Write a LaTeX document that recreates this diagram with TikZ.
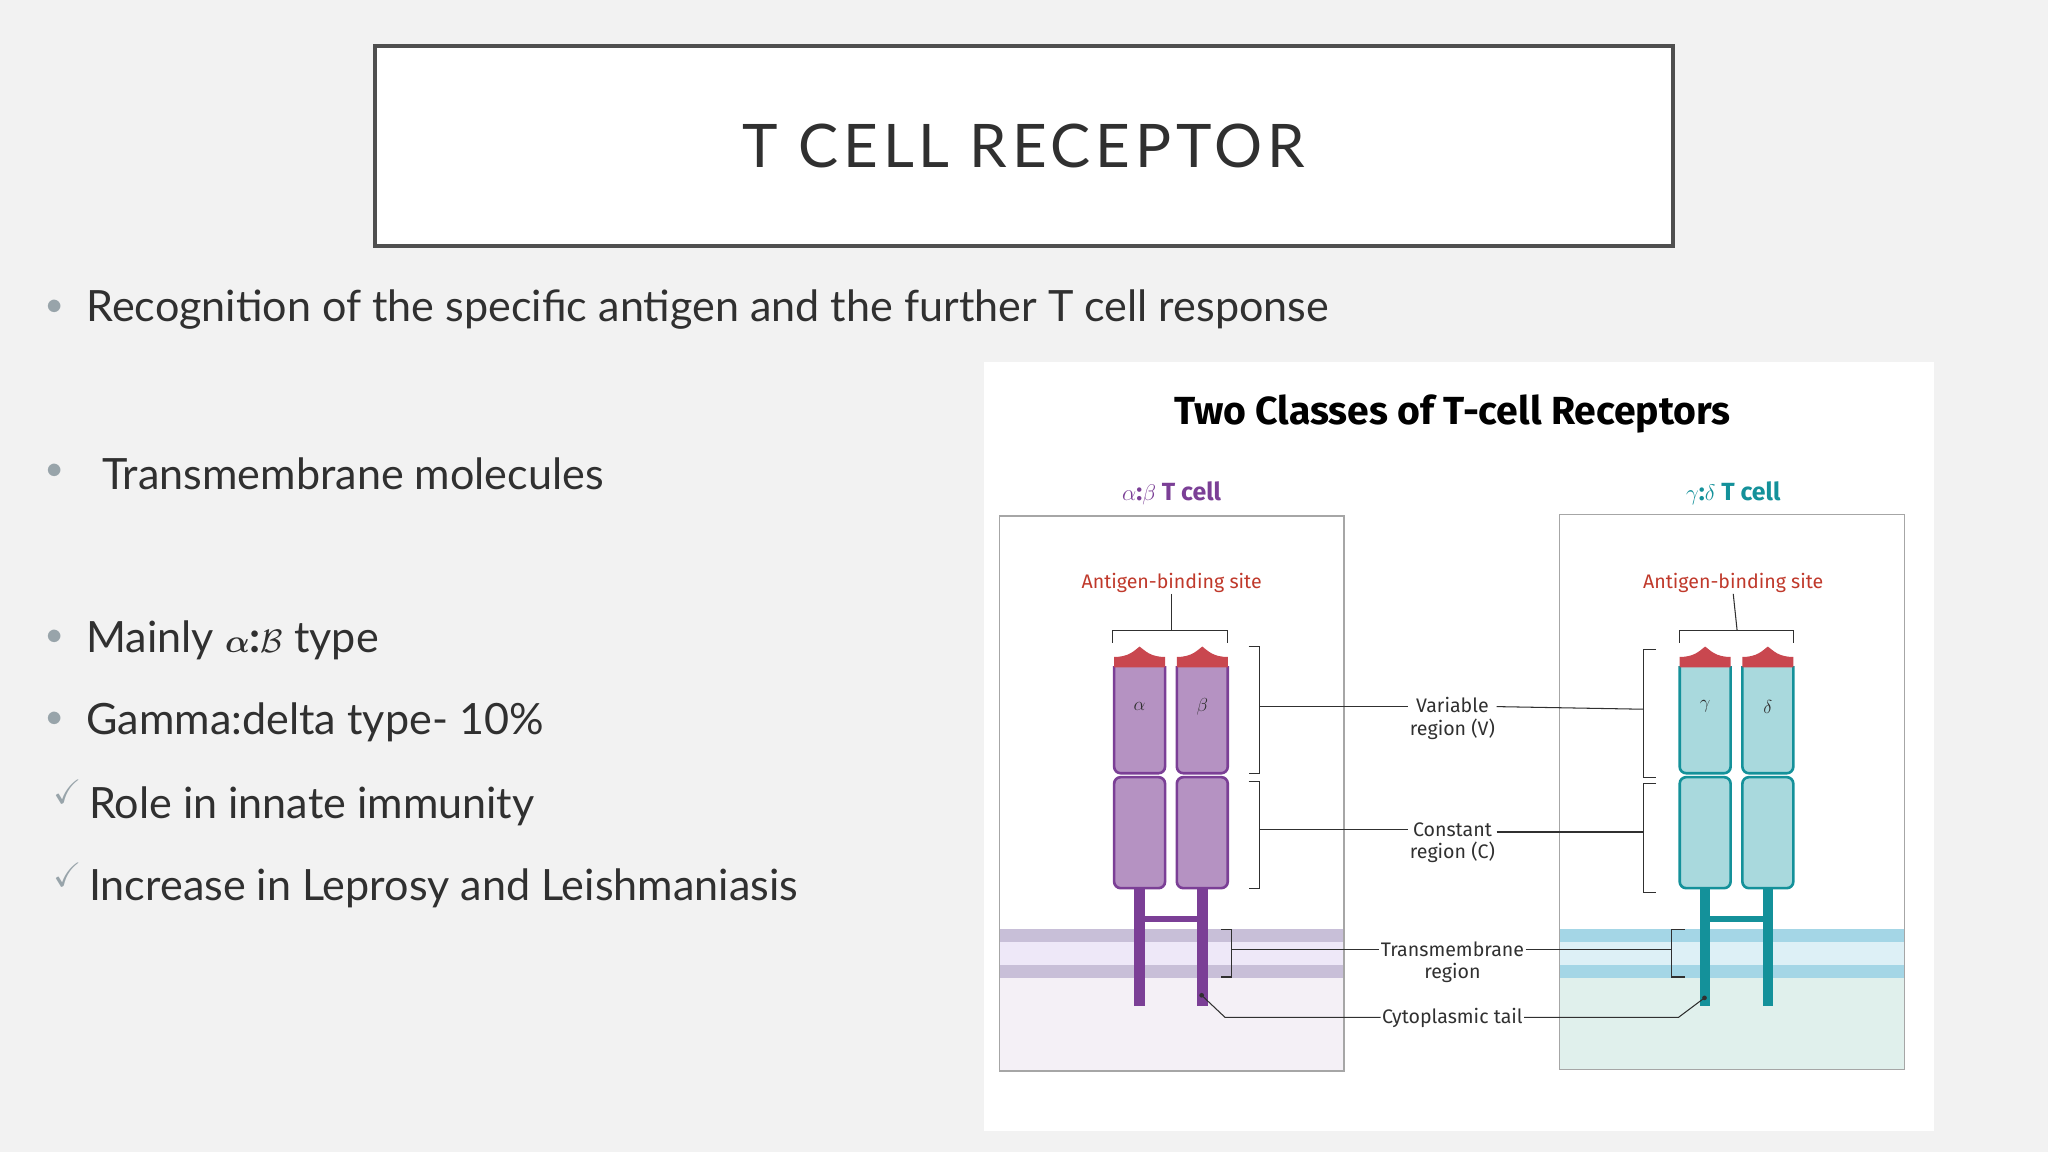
\documentclass[tikz,border=0pt]{standalone}
\usepackage{amsmath}
\usepackage{amssymb}
\usepackage{fontspec}
\setmainfont{Lato}
\newfontfamily\figfont{Fira Sans}
\usetikzlibrary{positioning}
\definecolor{slidebg}{HTML}{F2F2F2}
\definecolor{ink}{HTML}{303030}
\definecolor{dotgray}{HTML}{98A4AA}
\definecolor{abline}{HTML}{7B3F96}
\definecolor{abfill}{HTML}{B592C2}
\definecolor{gdline}{HTML}{14919A}
\definecolor{gdfill}{HTML}{A9D9DD}
\definecolor{capred}{HTML}{C9474F}
\definecolor{labred}{HTML}{C0392B}
\definecolor{abmemb}{HTML}{C8BFD8}
\definecolor{abmembin}{HTML}{EEE8F8}
\definecolor{ablow}{HTML}{F4F0F6}
\definecolor{gdmemb}{HTML}{A4D6E6}
\definecolor{gdmembin}{HTML}{DDF0F6}
\definecolor{gdlow}{HTML}{E0F0EC}
\begin{document}
\begin{tikzpicture}[
  x=1pt, y=-1pt,
  bullet/.style={anchor=west, inner sep=0pt, font=\fontsize{33}{36}\selectfont, text=ink},
  tick/.style={anchor=center, inner sep=0pt, text=dotgray},
  small/.style={font=\figfont\fontsize{15}{17}\selectfont, inner sep=1pt, align=center, text=ink},
  panel/.style={draw=gray!70, line width=1pt},
  chain/.style={rounded corners=5pt, line width=2pt},
  lead/.style={draw=ink, line width=0.8pt},
  brack/.style={draw=ink, line width=0.8pt},
]
\useasboundingbox[fill=slidebg] (0,0) rectangle (1568,882);

% title
\node[draw=ink!85, line width=3pt, fill=white, minimum width=994pt, minimum height=153pt,
  font=\fontsize{46}{50}\selectfont\addfontfeature{LetterSpace=8}, text=ink] (title) at (784,112) {T CELL RECEPTOR};

% bullets
\node[tick, font=\fontsize{30}{30}\selectfont] (d1) at (42,235) {$\bullet$};
\node[bullet] (b1) at (66,237) {Recognition of the specific antigen and the further T cell response};
\node[tick, font=\fontsize{30}{30}\selectfont] (d2) at (42,361) {$\bullet$};
\node[bullet] (b2) at (78,363) {Transmembrane molecules};
\node[tick, font=\fontsize{30}{30}\selectfont] (d3) at (42,488) {$\bullet$};
\node[bullet] (b3) at (66,490) {Mainly $\boldsymbol{\alpha}$\textbf{:}$\mathcal{B}$ type};
\node[tick, font=\fontsize{30}{30}\selectfont] (d4) at (42,551) {$\bullet$};
\node[bullet] (b4) at (66,553) {Gamma:delta type- 10\%};
\node[tick, font=\fontsize{26}{26}\selectfont] (c1) at (52,606) {$\checkmark$};
\node[bullet] (b5) at (68,617) {Role in innate immunity};
\node[tick, font=\fontsize{26}{26}\selectfont] (c2) at (52,670) {$\checkmark$};
\node[bullet] (b6) at (68,680) {Increase in Leprosy and Leishmaniasis};

% figure panel
\fill[white] (753,277) rectangle (1481,866);
\node[font=\figfont\bfseries\fontsize{30}{32}\selectfont, text=black] (ftitle) at (1112,317) {Two Classes of T-cell Receptors};

% cell boxes and membranes
\fill[ablow] (765,749) rectangle (1029,820);
\fill[abmemb] (765,711) rectangle (1029,749);
\fill[abmembin] (765,721) rectangle (1029,739);
\fill[gdlow] (1194,749) rectangle (1458,819);
\fill[gdmemb] (1194,711) rectangle (1458,749);
\fill[gdmembin] (1194,721) rectangle (1458,739);
\draw[panel] (765,395) rectangle (1029,820);
\draw[panel] (1194,394) rectangle (1458,819);

\node[font=\figfont\bfseries\fontsize{19}{21}\selectfont, text=abline] (abhead) at (897,378) {$\alpha$:$\beta$ T cell};
\node[font=\figfont\bfseries\fontsize{19}{21}\selectfont, text=gdline] (gdhead) at (1327,378) {$\gamma$:$\delta$ T cell};
\node[small, text=labred] (absite) at (897,446) {Antigen-binding site};
\node[small, text=labred] (gdsite) at (1327,446) {Antigen-binding site};

% chains
\foreach \xa/\lc/\fc/\nm/\gr in {853/abline/abfill/a/\alpha, 901/abline/abfill/b/\beta,
                                  1286/gdline/gdfill/g/\gamma, 1334/gdline/gdfill/d/\delta}{
  \pgfmathsetmacro\xb{\xa+39}
  \pgfmathsetmacro\xm{\xa+19.5}
  \fill[\lc] (\xm-4,680) rectangle (\xm+4,770);
  \draw[chain, draw=\lc, fill=\fc] (\xa,510) -- (\xa,592) -- (\xb,592) -- (\xb,510);
  \draw[chain, draw=\lc, fill=\fc] (\xa,595) rectangle (\xb,680);
  \fill[capred] (\xa,511) -- (\xa,503) .. controls (\xm-8,503) and (\xm-4,498) .. (\xm,495)
     .. controls (\xm+4,498) and (\xm+8,503) .. (\xb,503) -- (\xb,511) -- cycle;
  \node[font=\figfont\bfseries\fontsize{14}{16}\selectfont, text=ink] (n\nm) at (\xm,541) {$\gr$};
}
\fill[abline] (872,701) rectangle (920,706);
\fill[gdline] (1305,701) rectangle (1353,706);

% antigen brackets
\draw[brack] (852,492) -- (852,483) -- (940,483) -- (940,492);
\draw[brack] (absite.south) -- (897,483);
\draw[brack] (1286,492) -- (1286,483) -- (1373,483) -- (1373,492);
\draw[brack] (gdsite.south) -- (1330,483);

% region labels
\node[small] (var) at (1112,550) {Variable\\region (V)};
\node[small] (con) at (1112,645) {Constant\\region (C)};
\node[small] (tm) at (1112,737) {Transmembrane\\region};
\node[small] (tail) at (1112,779) {Cytoplasmic tail};

\coordinate (lv) at (964,541); \coordinate (rv) at (1258,543);
\coordinate (lc) at (964,635); \coordinate (rc) at (1258,637);
\coordinate (lt) at (943,727); \coordinate (rt) at (1280,727);
\coordinate (ltail) at (920,762); \coordinate (rtail) at (1305,764);

\draw[brack] (956,495) -- (964,495) -- (964,592) -- (956,592);
\draw[brack] (956,598) -- (964,598) -- (964,680) -- (956,680);
\draw[brack] (935,712) -- (943,712) -- (943,748) -- (935,748);
\draw[brack] (1268,497) -- (1258,497) -- (1258,595) -- (1268,595);
\draw[brack] (1268,600) -- (1258,600) -- (1258,683) -- (1268,683);
\draw[brack] (1290,712) -- (1280,712) -- (1280,748) -- (1290,748);

\draw[lead] (lv) -- (var.west |- lv);
\draw[lead] (var.east |- lv) -- (rv);
\draw[lead] (lc) -- (con.west |- lc);
\draw[lead] (con.east |- rc) -- (rc);
\draw[lead] (lt) -- (tm.west |- lt);
\draw[lead] (tm.east |- rt) -- (rt);
\draw[lead] (tail.west) -- (938,779) -- (ltail);
\draw[lead] (tail.east) -- (1285,779) -- (rtail);
\fill[ink] (ltail) circle (1.8pt);
\fill[ink] (rtail) circle (1.8pt);
\end{tikzpicture}
\end{document}
